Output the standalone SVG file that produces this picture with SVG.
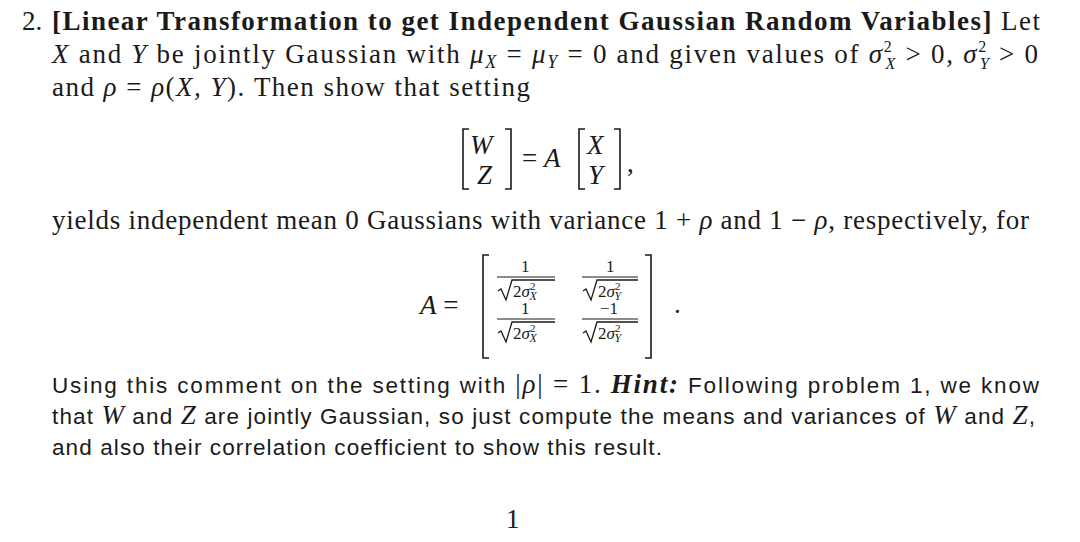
<svg xmlns="http://www.w3.org/2000/svg" width="1080" height="542" viewBox="0 0 1080 542">
<style>
.s{font-family:"Liberation Serif","DejaVu Serif",serif;font-size:27px;fill:#1a1a1a}
.i{font-style:italic}
.b{font-weight:bold}
.ss{font-family:"Liberation Sans","DejaVu Sans",sans-serif;font-size:22.5px;fill:#1a1a1a}
.sm{font-family:"Liberation Serif",serif;font-size:17px;fill:#1a1a1a}
.xs{font-family:"Liberation Serif",serif;font-size:12px;fill:#1a1a1a;font-style:italic}
.br{fill:none;stroke:#1a1a1a;stroke-width:1.6}
.ln{stroke:#1a1a1a;stroke-width:1.1}
.rt{fill:none;stroke:#1a1a1a;stroke-width:1.3}
</style>
<rect width="1080" height="542" fill="#fff"/>
<text class="s" x="22" y="30">2.</text>
<text class="s" x="52" y="30" textLength="988" lengthAdjust="spacing"><tspan class="b">[Linear Transformation to get Independent Gaussian Random Variables]</tspan> Let</text>
<text class="s" x="52" y="63" textLength="986" lengthAdjust="spacing"><tspan class="i">X</tspan> and <tspan class="i">Y</tspan> be jointly Gaussian with <tspan class="i">μ</tspan><tspan class="i" font-size="18" dy="5">X</tspan><tspan dy="-5"> = </tspan><tspan class="i">μ</tspan><tspan class="i" font-size="18" dy="5">Y</tspan><tspan dy="-5"> = 0 and given values of </tspan><tspan class="i">σ</tspan><tspan font-size="16" dy="-11">2</tspan><tspan class="i" font-size="16" dx="-8" dy="17">X</tspan><tspan dy="-6"> &gt; 0, </tspan><tspan class="i">σ</tspan><tspan font-size="16" dy="-11">2</tspan><tspan class="i" font-size="16" dx="-8" dy="17">Y</tspan><tspan dy="-6"> &gt; 0</tspan></text>
<text class="s" x="52" y="96" textLength="478" lengthAdjust="spacing">and <tspan class="i">ρ</tspan> = <tspan class="i">ρ</tspan>(<tspan class="i">X, Y</tspan>).  Then show that setting</text>

<g id="eq1">
<path class="br" d="M469,129 h-6 v60 h6 M505,129 h6 v60 h-6"/>
<text class="s i" x="470" y="154">W</text>
<text class="s i" x="477" y="184">Z</text>
<text class="s" x="522" y="167">= <tspan class="i">A</tspan></text>
<path class="br" d="M585,129 h-6 v60 h6 M614,129 h6 v60 h-6"/>
<text class="s i" x="587" y="154">X</text>
<text class="s i" x="588" y="184">Y</text>
<text class="s" x="627" y="172">,</text>
</g>

<text class="s" x="52" y="229" textLength="977" lengthAdjust="spacing">yields independent mean 0 Gaussians with variance 1 + <tspan class="i">ρ</tspan> and 1 − <tspan class="i">ρ</tspan>, respectively, for</text>

<g id="eqA">
<text class="s" x="420" y="314"><tspan class="i">A</tspan> =</text>
<path class="br" d="M489,255 h-6 v103 h6 M645,255 h6 v103 h-6"/>
<text class="sm" x="521" y="272">1</text>
<line class="ln" x1="497" y1="277" x2="555" y2="277"/>
<path class="rt" d="M498,291 l3,-2 l5,11 l6,-20 h43"/>
<text class="sm" x="513" y="297">2<tspan class="i">σ</tspan><tspan font-size="11" dy="-7">2</tspan><tspan class="xs" dx="-6" dy="10">X</tspan></text>
<text class="sm" x="606" y="272">1</text>
<line class="ln" x1="582" y1="277" x2="638" y2="277"/>
<path class="rt" d="M583,291 l3,-2 l5,11 l6,-20 h41"/>
<text class="sm" x="598" y="297">2<tspan class="i">σ</tspan><tspan font-size="11" dy="-7">2</tspan><tspan class="xs" dx="-6" dy="10">Y</tspan></text>
<text class="sm" x="521" y="314">1</text>
<line class="ln" x1="497" y1="319" x2="555" y2="319"/>
<path class="rt" d="M498,333 l3,-2 l5,11 l6,-20 h43"/>
<text class="sm" x="513" y="339">2<tspan class="i">σ</tspan><tspan font-size="11" dy="-7">2</tspan><tspan class="xs" dx="-6" dy="10">X</tspan></text>
<text class="sm" x="600" y="314">−1</text>
<line class="ln" x1="582" y1="319" x2="638" y2="319"/>
<path class="rt" d="M583,333 l3,-2 l5,11 l6,-20 h41"/>
<text class="sm" x="598" y="339">2<tspan class="i">σ</tspan><tspan font-size="11" dy="-7">2</tspan><tspan class="xs" dx="-6" dy="10">Y</tspan></text>
<text class="s" x="674" y="313">.</text>
</g>

<text class="ss" x="52" y="393" textLength="987" lengthAdjust="spacing">Using this comment on the setting with <tspan class="s">|<tspan class="i">ρ</tspan>| = 1.</tspan> <tspan class="s b i">Hint:</tspan> Following problem 1, we know</text>
<text class="ss" x="52" y="424" textLength="983" lengthAdjust="spacing">that <tspan class="s i">W</tspan> and <tspan class="s i">Z</tspan> are jointly Gaussian, so just compute the means and variances of <tspan class="s i">W</tspan> and <tspan class="s i">Z</tspan>,</text>
<text class="ss" x="52" y="455" textLength="610" lengthAdjust="spacing">and also their correlation coefficient to show this result.</text>
<text class="s" x="506" y="528">1</text>
</svg>
